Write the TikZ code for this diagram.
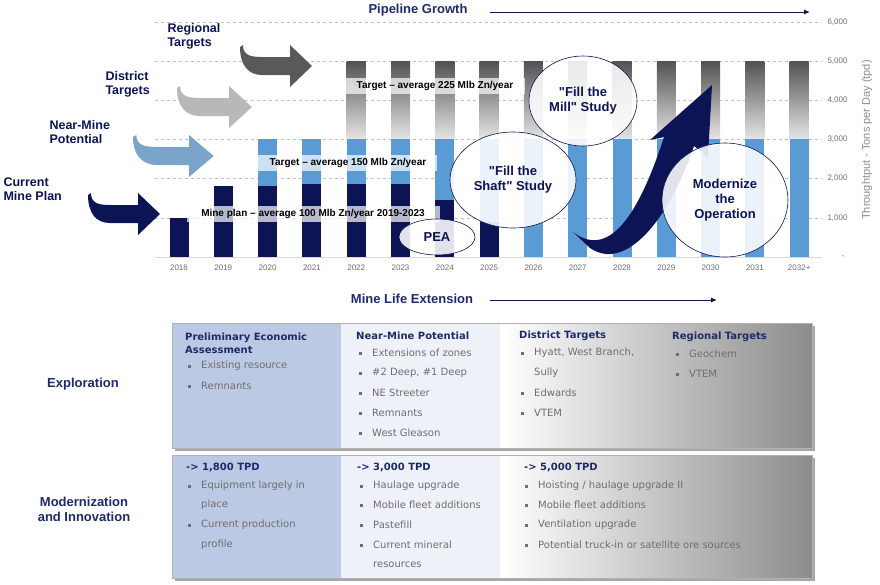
\documentclass[tikz,border=0pt]{standalone}
\usepackage{fontspec}
\setmainfont{Liberation Sans}
\newfontfamily\tblf{DejaVu Sans}
\usetikzlibrary{arrows.meta}
\definecolor{navy}{HTML}{0D1455}
\definecolor{barblue}{HTML}{5B9BD5}
\definecolor{hdnavy}{HTML}{1F2A6B}
\definecolor{txtgray}{HTML}{6E6E6E}
\definecolor{colA}{HTML}{BCC9E4}
\definecolor{colB}{HTML}{EEF2F8}
\tikzset{
  x=1pt,y=1pt,
  lbl/.style={font=\bfseries\fontsize{12.5}{14}\selectfont, text=navy, align=left, anchor=west},
  strip/.style={fill=white, fill opacity=0.7, draw=none},
  striptxt/.style={font=\bfseries\fontsize{10}{12}\selectfont, text=black, anchor=center},
  bubble/.style={ellipse, draw=navy, line width=0.6pt, fill=white, fill opacity=0.88, text opacity=1, font=\bfseries\fontsize{13}{15}\selectfont, text=navy, align=center, inner sep=0pt},
  yr/.style={font=\fontsize{8}{9}\selectfont, text=txtgray},
  ax/.style={font=\fontsize{8}{9}\selectfont, text=txtgray, anchor=west},
  hd/.style={font=\tblf\bfseries\fontsize{10}{13}\selectfont, text=hdnavy, anchor=west, inner sep=0pt, align=left},
  bt/.style={font=\tblf\fontsize{10}{12}\selectfont, text=txtgray, anchor=west, inner sep=0pt},
  bent/.pic={\fill[pic actions] (0,-2)--(3,0) .. controls (3,-10) and (10,-12) .. (22,-12) -- (50,-12) -- (50,0) -- (72,-21) -- (50,-42) -- (50,-30) -- (22,-30) .. controls (8,-30) and (0,-20) .. (0,-2) -- cycle;},
  title/.style={font=\bfseries\fontsize{13}{15}\selectfont, text=hdnavy},
  row/.style={font=\bfseries\fontsize{13}{15}\selectfont, text=hdnavy, align=center}
}
\usetikzlibrary{shapes.geometric}
\begin{document}
\begin{tikzpicture}
\useasboundingbox[fill=white] (0,0) rectangle (880,-584);
% grid
\foreach \v/\t in {1/1{,}000,2/2{,}000,3/3{,}000,4/4{,}000,5/5{,}000,6/6{,}000}{
  \draw[black!25, dashed] (155,{-257+39.2*\v}) -- (822,{-257+39.2*\v});
  \node[ax] (t\v) at (824,{-257+39.2*\v}) {\t};
}
\draw[black!15, line width=1pt] (155,-257) -- (822,-257);
\node[ax] (t0) at (838,-257) {-};
\node[rotate=90, font=\fontsize{11}{13}\selectfont, text=black!45] (axt) at (867,-140) {Throughtput - Tons per Day (tpd)};
% bars
\foreach \i/\d/\y in {0/1000/2018,1/1800/2019,2/1800/2020,3/1850/2021,4/1850/2022,5/1850/2023,6/1450/2024,7/900/2025,8/0/2026,9/0/2027,10/0/2028,11/0/2029,12/0/2030,13/0/2031,14/0/2032+}{
  \pgfmathsetmacro{\xc}{179+44.3*\i}
  \ifnum\i>3
    \shade[top color=black!68, bottom color=black!10] (\xc-9.5,{-257+39.2*5}) rectangle (\xc+9.5,{-257+39.2*3});
  \fi
  \ifnum\i>1
    \fill[barblue] (\xc-9.5,-257) rectangle (\xc+9.5,{-257+39.2*3});
  \fi
  \ifnum\d>0
    \fill[navy] (\xc-9.5,-257) rectangle (\xc+9.5,{-257+0.0392*\d});
  \fi
  \node[yr] (y\i) at (\xc,-268) {\y};
}
% strips
\fill[strip] (187,-206) rectangle (440,-222);
\node[striptxt] (s1) at (313,-214) {Mine plan -- average 100 Mlb Zn/year 2019-2023};
\fill[strip] (258,-155) rectangle (437,-171);
\node[striptxt] (s2) at (348,-163) {Target -- average 150 Mlb Zn/year};
\fill[strip] (345,-78) rectangle (525,-94);
\node[striptxt] (s3) at (435,-86) {Target -- average 225 Mlb Zn/year};
% bubbles
\node[bubble, minimum width=76, minimum height=36] (pea) at (437,-237) {PEA};
\node[bubble, minimum width=126, minimum height=96] (shaft) at (513,-180) {\textquotedbl Fill the\\Shaft\textquotedbl{} Study};
\node[bubble, minimum width=108, minimum height=90] (mill) at (583,-101) {\textquotedbl Fill the\\Mill\textquotedbl{} Study};
% big arrow
\fill[navy] (573,-232) .. controls (612,-262) and (642,-205) .. (664,-137) -- (650,-140) -- (712,-85) -- (708,-157) -- (694,-146) .. controls (668,-222) and (625,-272) .. (590,-248) -- cycle;
\node[bubble, minimum width=126, minimum height=114] (mod) at (725,-200) {Modernize\\the\\Operation};
% left arrows
\pic[fill=navy] (a1) at (88,-193) {bent};
\pic[fill={rgb,255:red,122;green,164;blue,201}, xscale=1.12] (a2) at (133,-135) {bent};
\pic[fill=black!28, xscale=1.04] (a3) at (177,-86) {bent};
\pic[fill=black!65] (a4) at (240,-45) {bent};
\node[lbl] (l1) at (0,-189) {Current\\Mine Plan};
\node[lbl] (l2) at (46,-132) {Near-Mine\\Potential};
\node[lbl] (l3) at (102,-84) {District\\Targets};
\node[lbl] (l4) at (164,-36) {Regional\\Targets};
% titles
\node[title] (pg) at (418,-10) {Pipeline Growth};
\coordinate (pga) at (490,-12); \coordinate (pgb) at (810,-12);
\draw[navy, line width=1pt, -{Latex[length=6pt,width=5pt]}] (pga) -- (pgb);
\node[title] (ml) at (412,-299) {Mine Life Extension};
\coordinate (mla) at (490,-300); \coordinate (mlb) at (717,-300);
\draw[navy, line width=1pt, -{Latex[length=6pt,width=5pt]}] (mla) -- (mlb);
% tables
\foreach \ta/\tb in {-323/-448,-455/-578}{
  \fill[black!35] (175,\ta-3) rectangle (815,\tb-3);
  \fill[colA] (172,\ta) rectangle (341,\tb);
  \fill[colB] (341,\ta) rectangle (500,\tb);
  \shade[left color=white, right color=black!45] (500,\ta) rectangle (812,\tb);
  \draw[black!30] (172,\ta) rectangle (812,\tb);
}
\node[row] (r1) at (83,-384) {Exploration};
\node[row] (r2) at (84,-509) {Modernization\\and Innovation};
\newcommand\bl[3]{\fill[txtgray] (#1-1.5,-#2-1.5) rectangle (#1+1.5,-#2+1.5); \node[bt] at (#1+12,-#2) {#3};}
\node[hd] (h1) at (185,-343) {Preliminary Economic\\Assessment};
\bl{189}{366}{Existing resource}\bl{189}{386}{Remnants}
\node[hd] (h2) at (356,-336) {Near-Mine Potential};
\bl{360}{353}{Extensions of zones}\bl{360}{373}{\#2 Deep, \#1 Deep}\bl{360}{393}{NE Streeter}\bl{360}{413}{Remnants}\bl{360}{433}{West Gleason}
\node[hd] (h3) at (519,-336) {District Targets};
\bl{522}{353}{Hyatt, West Branch,}\node[bt] at (534,-373) {Sully};\bl{522}{393}{Edwards}\bl{522}{413}{VTEM}
\node[hd] (h4) at (672,-337) {Regional Targets};
\bl{677}{354}{Geochem}\bl{677}{374}{VTEM}
\node[hd] (h5) at (186,-467) {-> 1,800 TPD};
\bl{189}{486}{Equipment largely in}\node[bt] at (201,-505) {place};\bl{189}{525}{Current production}\node[bt] at (201,-545) {profile};
\node[hd] (h6) at (357,-467) {-> 3,000 TPD};
\bl{361}{486}{Haulage upgrade}\bl{361}{505}{Mobile fleet additions}\bl{361}{525}{Pastefill}\bl{361}{545}{Current mineral}\node[bt] at (373,-565) {resources};
\node[hd] (h7) at (524,-467) {-> 5,000 TPD};
\bl{526}{486}{Hoisting / haulage upgrade II}\bl{526}{505}{Mobile fleet additions}\bl{526}{525}{Ventilation upgrade}\bl{526}{545}{Potential truck-in or satellite ore sources}
\end{tikzpicture}
\end{document}
